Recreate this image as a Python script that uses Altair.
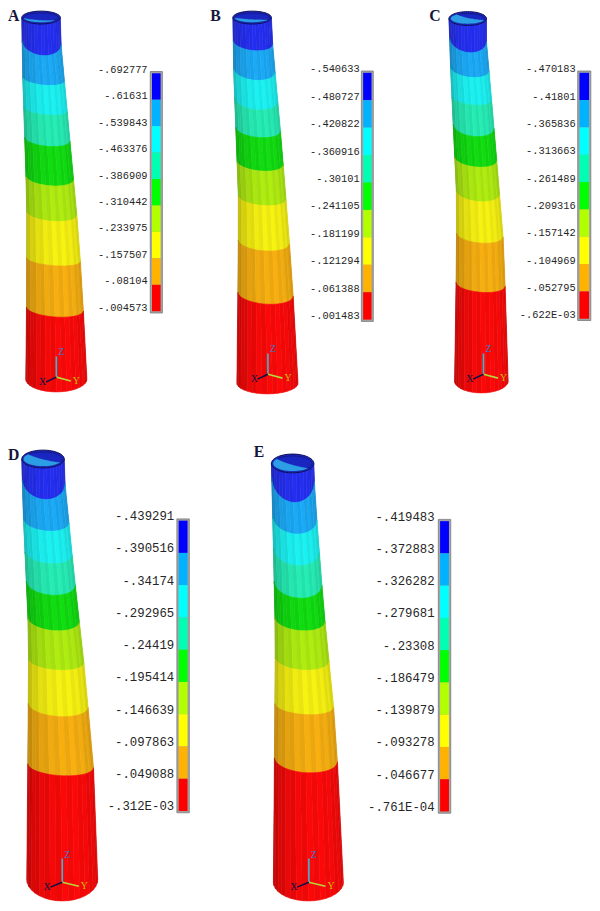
import math
import numpy as np
import pandas as pd
import altair as alt

alt.data_transformers.disable_max_rows()

# ---------------- data ----------------
panels = ["A", "B", "C", "D", "E"]

legend_A = ["-.692777", "-.61631", "-.539843", "-.463376", "-.386909",
            "-.310442", "-.233975", "-.157507", "-.08104", "-.004573"]
legend_B = ["-.540633", "-.480727", "-.420822", "-.360916", "-.30101",
            "-.241105", "-.181199", "-.121294", "-.061388", "-.001483"]
legend_C = ["-.470183", "-.41801", "-.365836", "-.313663", "-.261489",
            "-.209316", "-.157142", "-.104969", "-.052795", "-.622E-03"]
legend_D = ["-.439291", "-.390516", "-.34174", "-.292965", "-.24419",
            "-.195414", "-.146639", "-.097863", "-.049088", "-.312E-03"]
legend_E = ["-.419483", "-.372883", "-.326282", "-.279681", "-.23308",
            "-.186479", "-.139879", "-.093278", "-.046677", "-.761E-04"]
legends = dict(A=legend_A, B=legend_B, C=legend_C, D=legend_D, E=legend_E)

# contour band boundaries along each tower: y at the left edge, y at the lowest point
bound_left = dict(
    A=[35, 72, 103, 133, 172, 208, 255, 305],
    B=[35, 63, 93, 123, 157, 192, 237, 290],
    C=[32, 62, 92, 120, 153, 187, 230, 280],
    D=[480, 520, 553, 583, 620, 662, 707, 768],
    E=[478, 517, 550, 583, 620, 660, 707, 762],
)
bound_low = dict(
    A=[50, 80, 110, 142, 182, 218, 263, 315],
    B=[45, 75, 105, 133, 167, 202, 248, 302],
    C=[47, 72, 100, 132, 163, 198, 240, 290],
    D=[500, 532, 565, 597, 633, 673, 720, 780],
    E=[503, 535, 567, 600, 633, 673, 718, 777],
)

# ANSYS contour colours, top (most negative) to bottom
legend_colors = ["#0000FF", "#00B2FF", "#00FFFF", "#00FFB2", "#00FF00",
                 "#B2FF00", "#FFFF00", "#FFB200", "#FF0000"]
band_rgb = [(35, 45, 235), (25, 165, 240), (25, 235, 235), (35, 230, 175),
            (15, 215, 15), (170, 230, 15), (240, 235, 15), (240, 170, 15),
            (245, 8, 8)]

# ---------------- geometry of the picture ----------------
W, H = 592, 903
SX = alt.Scale(domain=[8, 8 + W], nice=False, zero=False)
SY = alt.Scale(domain=[8, 8 + H], nice=False, zero=False, reverse=True)

top_ellipse = dict(A=(41.5, 11.5, 19.5, 6.5), B=(255.5, 11.5, 19.5, 6.5),
                   C=(474, 12.5, 19, 7), D=(43.5, 459, 21.5, 9),
                   E=(296.5, 463.5, 21.5, 9.5))
left_edge = dict(
    A=([11.5, 67, 200, 333, 378], [22, 22.7, 27, 26.7, 26]),
    B=([11.5, 67, 200, 333, 382], [236, 236.7, 241.7, 240.7, 240]),
    C=([12.5, 67, 200, 333, 380], [455, 456.7, 463, 461.7, 460.7]),
    D=([459, 507, 640, 773, 885], [22, 23, 29, 28, 27]),
    E=([463.5, 507, 640, 773, 888], [275, 276, 279, 278, 277]),
)
right_edge = dict(
    A=([11.5, 33, 133, 233, 333, 378], [61, 61.5, 70.7, 80, 86, 88]),
    B=([11.5, 33, 133, 233, 333, 382], [275, 276, 285, 293, 300, 302]),
    C=([12.5, 33, 133, 233, 333, 380], [493, 493, 501.7, 510, 514, 515]),
    D=([459, 473, 573, 673, 773, 885], [65, 65, 75, 86, 95, 99]),
    E=([463.5, 490, 607, 707, 807, 888], [318, 319, 328, 338, 345, 348]),
)
bottom = dict(A=(378, 13), B=(382, 11), C=(380, 12), D=(885, 22), E=(888, 19))
# inner x0, x1, y0, step, label right x, font size
legend_geom = dict(A=(154, 162.7, 68, 26.8, 149.5, 10.5),
                   B=(368, 376.5, 67.5, 27.8, 364.5, 10.5),
                   C=(587.3, 597, 67.5, 27.7, 583.5, 10.5),
                   D=(181, 190, 521.5, 32.7, 176.5, 12.5),
                   E=(446, 455, 522, 32.7, 440.5, 12.5))
letter_pos = dict(A=(8, 15), B=(213, 15), C=(435, 15), D=(8, 460), E=(257, 457))
triad = dict(A=(57, 376, 21), B=(271.5, 373, 21), C=(490, 373, 21),
             D=(63, 888, 24), E=(313, 888, 24))
lens = dict(A=(40, 170, 0.75), B=(30, 175, 0.55), C=(20, 230, 0.1),
            D=(30, 220, 0.2), E=(40, 215, 0.3))
TILT = 4
NF = 18


def hexc(rgb):
    return "#%02x%02x%02x" % tuple(int(max(0, min(255, round(v)))) for v in rgb)


def edge_x(p, y, side):
    ys, xs = (left_edge if side == "L" else right_edge)[p]
    return float(np.interp(y, ys, xs))


def boundary(p, k):
    if k == -1:
        cx, cy, a, b = top_ellipse[p]
        yL = yR = cy
        s = b
        xl, xr = cx - a, cx + a
    elif k == 8:
        yb, s = bottom[p]
        yL = yR = yb
        xl, xr = edge_x(p, yb, "L"), edge_x(p, yb, "R")
    else:
        yL = bound_left[p][k]
        yR = yL + TILT
        s = bound_low[p][k] - (yL + yR) / 2
        ym = (yL + yR) / 2
        xl, xr = edge_x(p, ym, "L"), edge_x(p, ym, "R")
    xc, r = (xl + xr) / 2, (xr - xl) / 2

    def pt(t):
        return (xc - r * math.cos(t),
                yL + (yR - yL) * (1 - math.cos(t)) / 2 + s * math.sin(t))
    return pt


rows = {"body": [], "outer": [], "inner": [], "lens": []}
pid_counter = [0]


def add_poly(layer, pts, color):
    pid = pid_counter[0]
    pid_counter[0] += 1
    pts = list(pts) + [pts[0]]
    for i, (x, y) in enumerate(pts):
        rows[layer].append(dict(pid=pid, i=i, x=round(x, 2), y=round(y, 2), c=color))


for p in panels:
    for band in range(9):
        top_b = boundary(p, band - 1)
        bot_b = boundary(p, band)
        for j in range(NF):
            t0 = math.pi * j / NF
            t1 = math.pi * (j + 1) / NF
            tm = (t0 + t1) / 2
            f = 0.80 + 0.20 * math.sin(tm) - 0.06 * math.cos(tm) + (0.025 if j % 2 else -0.025)
            col = hexc([v * f for v in band_rgb[band]])
            add_poly("body", [top_b(t0), top_b(t1), bot_b(t1), bot_b(t0)], col)
    cx, cy, a, b = top_ellipse[p]
    add_poly("outer", [(cx + a * math.cos(2 * math.pi * i / 60), cy + b * math.sin(2 * math.pi * i / 60))
                       for i in range(60)], "#1e2ac8")
    ai, bi = a - 1.8, b - 1.8
    add_poly("inner", [(cx + ai * math.cos(2 * math.pi * i / 60), cy + bi * math.sin(2 * math.pi * i / 60))
                       for i in range(60)], "#1a26c0")
    f0, f1, kk = lens[p]
    pts = []
    for i in range(25):
        ph = math.radians(f0 + (f1 - f0) * i / 24)
        pts.append((cx + ai * math.cos(ph), cy + bi * math.sin(ph)))
    P0, P1 = pts[0], pts[-1]
    phm = math.radians((f0 + f1) / 2)
    C = (cx + kk * ai * math.cos(phm), cy + kk * bi * math.sin(phm))
    for i in range(1, 24):
        u = i / 24
        x = (1 - u) ** 2 * P1[0] + 2 * (1 - u) * u * C[0] + u * u * P0[0]
        y = (1 - u) ** 2 * P1[1] + 2 * (1 - u) * u * C[1] + u * u * P0[1]
        pts.append((x, y))
    add_poly("lens", pts, "#2c9ee6")

dfs = {k: pd.DataFrame(v) for k, v in rows.items()}


def poly_layer(df, stroke=None, sw=0.6):
    enc = dict(
        x=alt.X("x:Q", scale=SX, axis=None),
        y=alt.Y("y:Q", scale=SY, axis=None),
        detail="pid:N",
        order=alt.Order("i:Q"),
        fill=alt.Fill("c:N", scale=None, legend=None),
    )
    if stroke is None:
        enc["stroke"] = alt.Stroke("c:N", scale=None, legend=None)
        mk = alt.Chart(df).mark_line(strokeWidth=sw)
    else:
        mk = alt.Chart(df).mark_line(stroke=stroke, strokeWidth=sw)
    return mk.encode(**enc)


layers = [
    poly_layer(dfs["body"], sw=0.6),
    poly_layer(dfs["outer"], stroke="#0a0a50", sw=1.0),
    poly_layer(dfs["inner"], stroke="#10106a", sw=0.7),
    poly_layer(dfs["lens"], sw=0.3),
]

# legends
frame_rows, box_rows, lab_rows = [], [], []
for p in panels:
    x0, x1, y0, st, lx, fs = legend_geom[p]
    frame_rows.append(dict(x0=x0 - 1.8, x1=x1 + 1.8, y0=y0 - 1.8, y1=y0 + 9 * st + 1.8))
    for k in range(9):
        box_rows.append(dict(x0=x0, x1=x1, y0=y0 + k * st, y1=y0 + (k + 1) * st, c=legend_colors[k]))
    for k, txt in enumerate(legends[p]):
        lab_rows.append(dict(x=lx, y=y0 + k * st - 0.5, t=txt, fs=fs))

frame = alt.Chart(pd.DataFrame(frame_rows)).mark_rect(fill="#a3a3a3", stroke="#7a7a7a", strokeWidth=0.8).encode(
    x=alt.X("x0:Q", scale=SX, axis=None), x2="x1:Q",
    y=alt.Y("y0:Q", scale=SY, axis=None), y2="y1:Q")
boxes = alt.Chart(pd.DataFrame(box_rows)).mark_rect().encode(
    x=alt.X("x0:Q", scale=SX, axis=None), x2="x1:Q",
    y=alt.Y("y0:Q", scale=SY, axis=None), y2="y1:Q",
    fill=alt.Fill("c:N", scale=None, legend=None))
labels = alt.Chart(pd.DataFrame(lab_rows)).mark_text(
    align="right", baseline="alphabetic", font="Liberation Mono", color="#262626").encode(
    x=alt.X("x:Q", scale=SX, axis=None), y=alt.Y("y:Q", scale=SY, axis=None),
    text="t:N", size=alt.Size("fs:Q", scale=None, legend=None))

letters_df = pd.DataFrame([dict(x=letter_pos[p][0], y=letter_pos[p][1], t=p) for p in panels])
letters = alt.Chart(letters_df).mark_text(
    align="left", baseline="alphabetic", font="Liberation Serif", fontWeight="bold",
    fontSize=16, color="#16163a").encode(
    x=alt.X("x:Q", scale=SX, axis=None), y=alt.Y("y:Q", scale=SY, axis=None), text="t:N")

# coordinate triads
tri_rows, tri_lab = [], []
sid = 0
for p in panels:
    ox, oy, L = triad[p]
    segs = [((ox, oy - L), "#38b8d8", "Z", (ox + 2, oy - L - 1), "#3a78c8"),
            ((ox + 0.7 * L, oy + 4), "#b4d838", "Y", (ox + 0.7 * L + 2, oy + 7), "#c8c000"),
            ((ox - 0.5 * L, oy + 5), "#10104a", "X", (ox - 0.5 * L - 7, oy + 8), "#101040")]
    for (ex, ey), col, name, (lxx, lyy), lcol in segs:
        tri_rows.append(dict(s=sid, i=0, x=ox, y=oy, c=col))
        tri_rows.append(dict(s=sid, i=1, x=ex, y=ey, c=col))
        sid += 1
        tri_lab.append(dict(x=lxx, y=lyy, t=name, c=lcol))

tri = alt.Chart(pd.DataFrame(tri_rows)).mark_line(strokeWidth=1.6).encode(
    x=alt.X("x:Q", scale=SX, axis=None), y=alt.Y("y:Q", scale=SY, axis=None),
    detail="s:N", order=alt.Order("i:Q"),
    stroke=alt.Stroke("c:N", scale=None, legend=None))
tri_text = alt.Chart(pd.DataFrame(tri_lab)).mark_text(
    align="left", baseline="alphabetic", font="Liberation Serif", fontSize=10).encode(
    x=alt.X("x:Q", scale=SX, axis=None), y=alt.Y("y:Q", scale=SY, axis=None),
    text="t:N", color=alt.Color("c:N", scale=None, legend=None))

chart = alt.layer(*layers, frame, boxes, labels, letters, tri, tri_text).properties(
    width=W, height=H, padding=0, autosize=alt.AutoSizeParams(type="none"),
    background="white",
).configure_view(stroke=None)

chart.save("out.html", embed_options={"renderer": "svg", "actions": False})
